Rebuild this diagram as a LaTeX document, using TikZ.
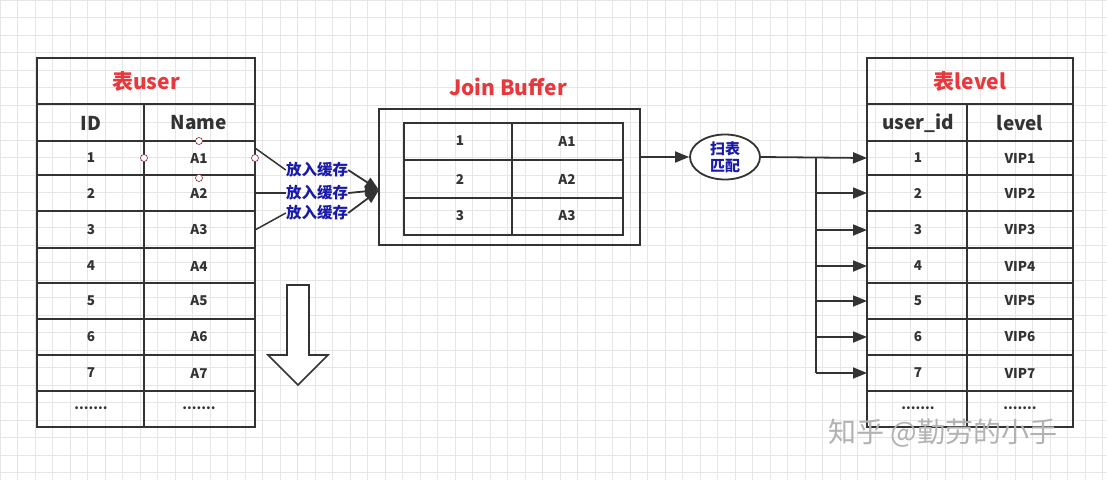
\documentclass[tikz,border=0pt]{standalone}
\usepackage{fontspec}
\setmainfont{Noto Sans CJK SC}
\usetikzlibrary{arrows.meta,shapes.geometric}
\definecolor{tred}{HTML}{E8383D}
\definecolor{tblue}{HTML}{1A1AA8}
\definecolor{tline}{HTML}{333333}
\definecolor{grid}{HTML}{E6E6E6}
\tikzset{
  tl/.style={draw=tline,line width=1.8pt},
  ttl/.style={font=\bfseries\fontsize{21}{21}\selectfont,text=tred},
  hd/.style={font=\bfseries\fontsize{19}{19}\selectfont,text=tline},
  cell/.style={font=\bfseries\fontsize{13.5}{13.5}\selectfont,text=tline},
  lbl/.style={font=\bfseries\fontsize{15.5}{15.5}\selectfont,text=tblue,inner sep=0pt},
  arr/.style={draw=tline,line width=1.8pt,-{Triangle[length=14pt,width=11pt]}},
  hdl/.style={circle,draw=tred!60!black,fill=white,inner sep=0pt,minimum size=7pt,line width=0.6pt}
}
\begin{document}
\begin{tikzpicture}[x=1pt,y=-1pt]
\useasboundingbox (0,0) rectangle (1107,480);
\fill[white] (0,0) rectangle (1107,480);
\foreach \g in {0,17.5,...,1107} \draw[grid,line width=0.5pt] (\g,0) -- (\g,480);
\foreach \g in {0,17.5,...,480} \draw[grid,line width=0.5pt] (0,\g) -- (1107,\g);
% left table
\draw[tl] (37,58) rectangle (255,427);
\foreach \y in {104,141,175,211,248,283,319,355,391} \draw[tl] (37,\y) -- (255,\y);
\draw[tl] (144,104) -- (144,427);
\node[ttl] (lt) at (146,82) {表user};
\node[hd] at (91,123) {ID};
\node[hd] at (199,123) {Name};
\foreach \i/\y in {1/158,2/193,3/230,4/266,5/301,6/337,7/373} {
  \node[cell] at (91,\y) {\i};
  \node[cell] at (199,\y) {A\i};
}
\node[cell] at (91,408) {.......};
\node[cell] at (199,408) {.......};
% right table
\draw[tl] (867,58) rectangle (1073,427);
\foreach \y in {104,141,175,211,248,283,319,355,391} \draw[tl] (867,\y) -- (1073,\y);
\draw[tl] (967,104) -- (967,427);
\node[ttl] at (970,82) {表level};
\node[hd] at (918,123) {user\_id};
\node[hd] at (1020,123) {level};
\foreach \i/\y in {1/158,2/193,3/230,4/266,5/301,6/337,7/373} {
  \node[cell] at (918,\y) {\i};
  \node[cell] at (1020,\y) {VIP\i};
  \coordinate (r\i) at (867,\y);
}
\node[cell] at (918,408) {.......};
\node[cell] at (1020,408) {.......};
% handles
\node[hdl] at (199,141) {};
\node[hdl] at (144,158) {};
\node[hdl] at (255,158) {};
\node[hdl] at (199,178) {};
% join buffer
\node[ttl] at (508,87) {Join Buffer};
\draw[tl] (379,109) rectangle (640,245);
\draw[tl] (404,123) rectangle (623,235);
\foreach \y in {160,198} \draw[tl] (404,\y) -- (623,\y);
\draw[tl] (512,123) -- (512,235);
\foreach \i/\y in {1/141,2/179,3/216} {
  \node[cell] at (460,\y) {\i};
  \node[cell] at (567,\y) {A\i};
}
% labels
\node[lbl] (l1) at (317,170) {放入缓存};
\node[lbl] (l2) at (317,193) {放入缓存};
\node[lbl] (l3) at (317,213) {放入缓存};
\coordinate (jb) at (379,190);
\draw[tl,line width=1.5pt] (255,148) -- (l1.west);
\draw[tl,line width=1.5pt] (255,193) -- (l2.west);
\draw[tl,line width=1.5pt] (255,230) -- (l3.west);
\draw[arr] (l1.east) -- (jb);
\draw[arr] (l2.east) -- (jb);
\draw[arr] (l3.east) -- (jb);
% down arrow
\draw[tl,fill=white,line width=1.6pt] (287,285) -- (309,285) -- (309,355) -- (328,355) -- (298,385) -- (268,355) -- (287,355) -- cycle;
% ellipse
\node[ellipse,draw=tline,line width=1.8pt,fill=white,minimum width=70pt,minimum height=45pt,inner sep=0pt,align=center,font=\bfseries\fontsize{15}{17}\selectfont,text=tblue] (sc) at (725,157) {扫表\\匹配};
\coordinate (jbo) at (640,157);
\draw[arr] (jbo) -- (sc.west);
\draw[arr] (sc.east) -- (r1);
\draw[tl] (816,157) -- (816,373);
\foreach \i in {2,...,7} \draw[arr] (816,0 |- r\i) -- (r\i);
\node[font=\fontsize{28}{28}\selectfont,text=black!30] at (943,433) {知乎 @勤劳的小手};
\end{tikzpicture}
\end{document}
